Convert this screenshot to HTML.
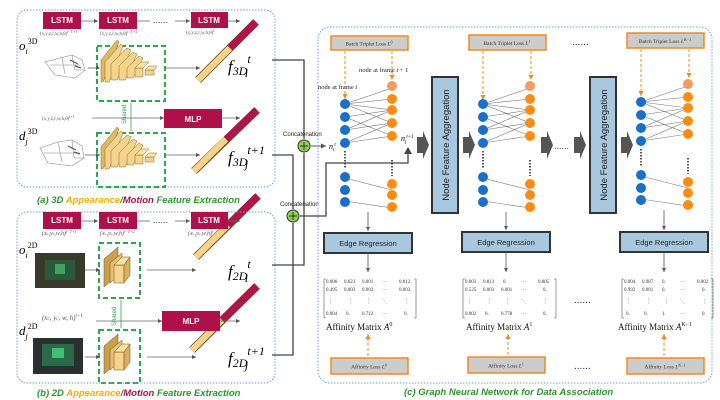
<!DOCTYPE html>
<html><head><meta charset="utf-8"><style>
html,body{margin:0;padding:0;background:#fff;}
svg{display:block;}
.s{font-family:"Liberation Sans",sans-serif;}
.m{font-family:"Liberation Serif",serif;}
</style></head><body>
<svg width="720" height="400" viewBox="0 0 720 400" xmlns="http://www.w3.org/2000/svg">
<defs>
<marker id="ag" markerWidth="6" markerHeight="6" refX="5" refY="3" orient="auto"><path d="M0,0.5 L5,3 L0,5.5z" fill="#555"/></marker>
<marker id="ao" markerWidth="6" markerHeight="6" refX="5" refY="3" orient="auto"><path d="M0,0.5 L5,3 L0,5.5z" fill="#f08a1c"/></marker>
<g id="pyr">
 <polygon points="0,30 0,8 16,-12 18,-10 2,30" fill="#e0b860" stroke="#8a6a2a" stroke-width="0.5"/>
 <polygon points="4,30 4,10 20,-8 22,-6 8,30" fill="#f5d38a" stroke="#8a6a2a" stroke-width="0.5"/>
 <polygon points="10,28 10,12 26,-4 30,-2 16,28" fill="#f5d38a" stroke="#8a6a2a" stroke-width="0.5"/>
 <polygon points="18,28 18,14 32,0 36,2 24,28" fill="#f5d38a" stroke="#8a6a2a" stroke-width="0.5"/>
 <polygon points="26,26 26,16 38,4 42,6 32,26" fill="#f5d38a" stroke="#8a6a2a" stroke-width="0.5"/>
 <rect x="34" y="16" width="8" height="9" fill="#f5d38a" stroke="#8a6a2a" stroke-width="0.5"/>
 <polygon points="34,16 40,10 48,10 42,16" fill="#fbe3a8" stroke="#8a6a2a" stroke-width="0.5"/>
 <rect x="44" y="18" width="9" height="5" fill="#f5d38a" stroke="#8a6a2a" stroke-width="0.5"/>
 <polygon points="44,18 48,14 56,14 53,18" fill="#fbe3a8" stroke="#8a6a2a" stroke-width="0.5"/>
</g>
<g id="pyr2">
 <polygon points="0,32 0,4 14,-8 14,20" fill="#c9a050" stroke="#6a4a1a" stroke-width="0.5"/>
 <polygon points="6,28 6,8 18,-2 18,18" fill="#e8c070" stroke="#6a4a1a" stroke-width="0.5"/>
 <rect x="10" y="10" width="10" height="18" fill="#f5d38a" stroke="#6a4a1a" stroke-width="0.5"/>
 <polygon points="10,10 18,2 26,2 20,10" fill="#fbe3a8" stroke="#6a4a1a" stroke-width="0.5"/>
 <polygon points="20,10 26,2 26,20 20,28" fill="#d9b060" stroke="#6a4a1a" stroke-width="0.5"/>
</g>
</defs>

<!-- panel a -->
<rect x="17" y="10" width="258" height="177" rx="10" fill="none" stroke="#6a9fd8" stroke-width="1" stroke-dasharray="1.5,1.5"/>
<g class="s" font-size="8" font-weight="bold" fill="#fff" text-anchor="middle">
<rect x="43" y="12" width="38" height="17" fill="#b0104a"/><text x="62" y="23">LSTM</text>
<rect x="99" y="12" width="38" height="17" fill="#b0104a"/><text x="118" y="23">LSTM</text>
<rect x="191" y="12" width="37" height="16" fill="#b0104a"/><text x="209" y="23">LSTM</text>
</g>
<g stroke="#666" stroke-width="0.8" marker-end="url(#ag)">
<line x1="81" y1="21" x2="98" y2="21"/><line x1="175" y1="21" x2="190" y2="21"/>
<line x1="228" y1="21" x2="240" y2="21"/>
</g>
<line x1="137" y1="21" x2="150" y2="21" stroke="#666" stroke-width="0.8"/>
<text x="153" y="23" class="s" font-size="9" fill="#333">......</text>
<g class="m" font-size="5" fill="#555"><text x="40" y="35">(x,y,z,l,w,h,θ)<tspan dy="-2" font-size="4">t−T+1</tspan></text><text x="100" y="35">(x,y,z,l,w,h,θ)<tspan dy="-2" font-size="4">t−T+2</tspan></text><text x="186" y="34">(x,y,z,l,w,h,θ)<tspan dy="-2" font-size="4">t</tspan></text></g>
<text x="19" y="50" class="m" font-size="13" font-style="italic">o<tspan font-size="8" dy="4">i</tspan><tspan font-size="8" dy="-10" font-style="normal">3D</tspan></text>
<text x="19" y="140" class="m" font-size="13" font-style="italic">d<tspan font-size="8" dy="4">j</tspan><tspan font-size="8" dy="-10" font-style="normal">3D</tspan></text>
<g stroke="#aaa" stroke-width="0.8" fill="none">
<path d="M45,62 L60,58 L72,55 L82,60 L85,70 L75,78 L55,75 Z M62,58 L65,74 M72,55 L75,70 L85,70 M50,65 L80,65"/>
<path d="M40,148 L58,142 L72,140 L82,146 L84,158 L72,166 L48,163 Z M58,142 L62,162 M72,140 L74,158 L84,158 M44,153 L80,153"/>
</g>
<g stroke="#555" stroke-width="1.2"><path d="M70,60 l8,4 M75,66 l6,2 M68,146 l8,4 M74,152 l6,2"/></g>
<g fill="none" stroke="#2aa84a" stroke-width="2" stroke-dasharray="5,3">
<rect x="97" y="46" width="68" height="55"/><rect x="97" y="133" width="68" height="54"/>
<rect x="99" y="243" width="41" height="55"/><rect x="99" y="330" width="41" height="53"/>
</g>
<use href="#pyr" x="101" y="52"/><use href="#pyr" x="101" y="139"/>
<use href="#pyr2" x="104" y="255"/><use href="#pyr2" x="104" y="342"/>
<line x1="131" y1="103" x2="131" y2="131" stroke="#2aa84a" stroke-width="0.8"/>
<text x="0" y="0" transform="translate(126,124) rotate(-90)" class="s" font-size="6" fill="#2aa84a">Shared</text>
<line x1="121" y1="300" x2="121" y2="328" stroke="#2aa84a" stroke-width="0.8"/>
<text x="0" y="0" transform="translate(116,326) rotate(-90)" class="s" font-size="6" fill="#2aa84a">Shared</text>
<g stroke="#666" stroke-width="0.8" marker-end="url(#ag)">
<line x1="88" y1="68" x2="100" y2="68"/><line x1="165" y1="68" x2="200" y2="68"/>
<line x1="85" y1="155" x2="100" y2="155"/><line x1="165" y1="155" x2="200" y2="155"/>
<line x1="92" y1="118" x2="164" y2="118"/><line x1="222" y1="118" x2="240" y2="118"/>
</g>
<text x="42" y="120" class="m" font-size="5" fill="#555">(x,y,z,l,w,h,θ)<tspan dy="-2" font-size="4">t+1</tspan></text>
<rect x="164" y="109" width="58" height="19" fill="#b0104a"/><text x="193" y="122" class="s" font-size="8" font-weight="bold" fill="#fff" text-anchor="middle">MLP</text>
<!-- bars -->
<g stroke-width="8" stroke-linecap="butt" stroke="#6a4a1a">
<line x1="198" y1="80" x2="256" y2="22"/><line x1="194" y1="171" x2="257" y2="110"/>
<line x1="196" y1="257" x2="258" y2="196"/><line x1="192" y1="350" x2="257" y2="286"/>
</g>
<g stroke-width="6.5" stroke-linecap="butt">
<line x1="198" y1="80" x2="230" y2="48" stroke="#f5d38a"/><line x1="230" y1="48" x2="256" y2="22" stroke="#b3124d"/>
<line x1="194" y1="171" x2="226" y2="139" stroke="#f5d38a"/><line x1="226" y1="139" x2="257" y2="110" stroke="#b3124d"/>
<line x1="196" y1="257" x2="228" y2="225" stroke="#f5d38a"/><line x1="228" y1="225" x2="258" y2="196" stroke="#b3124d"/>
<line x1="192" y1="350" x2="222" y2="320" stroke="#f5d38a"/><line x1="222" y1="320" x2="257" y2="286" stroke="#b3124d"/>
</g>
<g class="m" font-style="italic" font-size="17">
<text x="228" y="72">f<tspan font-size="12" dy="3">3D</tspan><tspan font-size="12" dy="-12">t</tspan><tspan font-size="12" dx="-6" dy="14">i</tspan></text>
<text x="228" y="163">f<tspan font-size="12" dy="3">3D</tspan><tspan font-size="12" dy="-12">t+1</tspan><tspan font-size="12" dx="-20" dy="14">j</tspan></text>
<text x="228" y="277">f<tspan font-size="12" dy="3">2D</tspan><tspan font-size="12" dy="-12">t</tspan><tspan font-size="12" dx="-6" dy="14">i</tspan></text>
<text x="228" y="364">f<tspan font-size="12" dy="3">2D</tspan><tspan font-size="12" dy="-12">t+1</tspan><tspan font-size="12" dx="-20" dy="14">j</tspan></text>
</g>
<text x="37" y="203" class="s" font-size="9.5" font-weight="bold" font-style="italic" fill="#2a9a2a">(a) 3D <tspan fill="#f0b000">Appearance</tspan>/<tspan fill="#b0104a">Motion</tspan> Feature Extraction</text>

<!-- panel b -->
<rect x="17" y="212" width="258" height="171" rx="10" fill="none" stroke="#6a9fd8" stroke-width="1" stroke-dasharray="1.5,1.5"/>
<g class="s" font-size="8" font-weight="bold" fill="#fff" text-anchor="middle">
<rect x="43" y="212" width="38" height="17" fill="#b0104a"/><text x="62" y="223">LSTM</text>
<rect x="99" y="212" width="38" height="17" fill="#b0104a"/><text x="118" y="223">LSTM</text>
<rect x="191" y="212" width="37" height="17" fill="#b0104a"/><text x="209" y="223">LSTM</text>
</g>
<g stroke="#666" stroke-width="0.8" marker-end="url(#ag)">
<line x1="81" y1="221" x2="98" y2="221"/><line x1="175" y1="221" x2="190" y2="221"/><line x1="228" y1="221" x2="240" y2="221"/>
<line x1="85" y1="270" x2="100" y2="270"/><line x1="147" y1="270" x2="196" y2="270"/>
<line x1="85" y1="357" x2="100" y2="357"/><line x1="147" y1="357" x2="196" y2="357"/>
<line x1="96" y1="321" x2="162" y2="321"/><line x1="220" y1="321" x2="240" y2="321"/>
</g>
<line x1="137" y1="221" x2="150" y2="221" stroke="#666" stroke-width="0.8"/>
<text x="153" y="223" class="s" font-size="9" fill="#333">......</text>
<g class="m" font-size="6" fill="#555" font-style="italic"><text x="42" y="235">(x<tspan font-size="4">c</tspan>,y<tspan font-size="4">c</tspan>,w,h)<tspan dy="-2" font-size="4">t−T+1</tspan></text><text x="100" y="235">(x<tspan font-size="4">c</tspan>,y<tspan font-size="4">c</tspan>,w,h)<tspan dy="-2" font-size="4">t−T+2</tspan></text><text x="188" y="235">(x<tspan font-size="4">c</tspan>,y<tspan font-size="4">c</tspan>,w,h)<tspan dy="-2" font-size="4">t</tspan></text>
<text x="42" y="320" font-size="7">(x<tspan font-size="5">c</tspan>, y<tspan font-size="5">c</tspan>, w, h)<tspan dy="-3" font-size="5">t+1</tspan></text></g>
<text x="19" y="254" class="m" font-size="13" font-style="italic">o<tspan font-size="8" dy="4">i</tspan><tspan font-size="8" dy="-10" font-style="normal">2D</tspan></text>
<text x="19" y="335" class="m" font-size="13" font-style="italic">d<tspan font-size="8" dy="4">j</tspan><tspan font-size="8" dy="-10" font-style="normal">2D</tspan></text>
<rect x="35" y="253" width="50" height="35" fill="#3a3a2a"/><rect x="45" y="260" width="30" height="20" fill="#2a5a3a"/><rect x="55" y="264" width="10" height="10" fill="#40a060"/>
<rect x="33" y="338" width="50" height="36" fill="#2a3030"/><rect x="42" y="344" width="32" height="22" fill="#2a6a4a"/><rect x="52" y="348" width="12" height="10" fill="#40c070"/>
<rect x="162" y="311" width="58" height="20" fill="#b0104a"/><text x="191" y="324" class="s" font-size="8" font-weight="bold" fill="#fff" text-anchor="middle">MLP</text>
<text x="37" y="396" class="s" font-size="9.5" font-weight="bold" font-style="italic" fill="#2a9a2a">(b) 2D <tspan fill="#f0b000">Appearance</tspan>/<tspan fill="#b0104a">Motion</tspan> Feature Extraction</text>

<!-- connectors -->
<g stroke="#444" stroke-width="1.3" fill="none">
<polyline points="272,60 304,60 304,139"/>
<polyline points="272,265 304,265 304,153"/>
<polyline points="272,155 293,155 293,209"/>
<polyline points="272,355 293,355 293,223"/>
<polyline points="300,216 326,216 326,163 408,163 408,152"/>
</g>
<line x1="311" y1="146" x2="326" y2="146" stroke="#555" stroke-width="1" marker-end="url(#ag)"/>
<path d="M404,154 L408,147 L412,154z" fill="#444"/>
<g stroke="#333" stroke-width="1"><circle cx="304" cy="146" r="6" fill="#8cd44a"/><path d="M300,146h8M304,142v8"/><circle cx="293" cy="216" r="6" fill="#8cd44a"/><path d="M289,216h8M293,212v8"/></g>
<text x="283" y="136" class="s" font-size="6" fill="#222">Concatenation</text>
<text x="280" y="206" class="s" font-size="6" fill="#222">Concatenation</text>
<text x="329" y="149" class="m" font-size="8" font-style="italic">n<tspan font-size="5" dy="2">i</tspan><tspan font-size="5" dy="-5">t</tspan></text>
<text x="401" y="141" class="m" font-size="8" font-style="italic">n<tspan font-size="5" dy="2">j</tspan><tspan font-size="5" dy="-5">t+1</tspan></text>

<!-- panel c -->
<rect x="318" y="27" width="394" height="356" rx="12" fill="none" stroke="#6a9fd8" stroke-width="1" stroke-dasharray="1.5,1.5"/>
<g class="m" font-size="5.5" fill="#333" text-anchor="middle">
<rect x="331" y="36" width="77" height="14" fill="#ccc" stroke="#f08a1c" stroke-width="1.5"/><text x="369" y="45.5">Batch Triplet Loss <tspan font-style="italic">L</tspan><tspan font-size="4" dy="-2">0</tspan></text>
<rect x="469" y="35" width="77" height="15" fill="#ccc" stroke="#f08a1c" stroke-width="1.5"/><text x="507" y="45">Batch Triplet Loss <tspan font-style="italic">L</tspan><tspan font-size="4" dy="-2">1</tspan></text>
<rect x="627" y="33" width="77" height="15" fill="#ccc" stroke="#f08a1c" stroke-width="1.5"/><text x="665" y="43">Batch Triplet Loss <tspan font-style="italic">L</tspan><tspan font-size="4" dy="-2">K−1</tspan></text>
<rect x="331" y="358" width="77" height="16" fill="#ccc" stroke="#f08a1c" stroke-width="1.5"/><text x="369" y="368.5">Affinity Loss <tspan font-style="italic">L</tspan><tspan font-size="4" dy="-2">0</tspan></text>
<rect x="468" y="357" width="77" height="16" fill="#ccc" stroke="#f08a1c" stroke-width="1.5"/><text x="506" y="367.5">Affinity Loss <tspan font-style="italic">L</tspan><tspan font-size="4" dy="-2">1</tspan></text>
<rect x="627" y="358" width="77" height="16" fill="#ccc" stroke="#f08a1c" stroke-width="1.5"/><text x="665" y="368.5">Affinity Loss <tspan font-style="italic">L</tspan><tspan font-size="4" dy="-2">K−1</tspan></text>
</g>
<g class="s" font-size="10" fill="#222"><text x="572" y="45">......</text><text x="574" y="303">......</text><text x="574" y="369">......</text></g>
<g stroke="#f08a1c" stroke-width="1" stroke-dasharray="3,2" marker-end="url(#ao)">
<line x1="345" y1="51" x2="345" y2="99"/><line x1="392" y1="51" x2="392" y2="80"/>
<line x1="483" y1="51" x2="483" y2="100"/><line x1="531" y1="51" x2="531" y2="80"/>
<line x1="641" y1="49" x2="641" y2="96"/><line x1="689" y1="49" x2="689" y2="78"/>
<line x1="368" y1="356" x2="368" y2="334"/><line x1="508" y1="355" x2="508" y2="334"/><line x1="664" y1="356" x2="664" y2="334"/>
</g>
<text x="359" y="72" class="m" font-size="6.5" fill="#222">node at frame <tspan font-style="italic">t</tspan> + 1</text>
<text x="318" y="89" class="m" font-size="6.5" fill="#222">node at frame <tspan font-style="italic">t</tspan></text>

<g id="graph">
<g stroke="#777" stroke-width="0.6">
<path d="M345,104 L392,88 M345,104 L392,110 M345,104 L392,123 M345,117 L392,110 M345,117 L392,136 M345,130 L392,110 M345,130 L392,123 M345,143 L392,123 M345,143 L392,136 M345,104 L392,99 M345,178 L392,190 M345,201 L392,208"/>
</g>
<g fill="#1a6fc8"><circle cx="345" cy="104" r="5"/><circle cx="345" cy="117" r="5"/><circle cx="345" cy="130" r="5"/><circle cx="345" cy="143" r="5"/><circle cx="345" cy="177" r="5"/><circle cx="345" cy="190" r="5"/><circle cx="345" cy="202" r="5"/></g>
<circle cx="392" cy="86" r="5" fill="#f59a62"/>
<g fill="#ff8c10"><circle cx="392" cy="99" r="5"/><circle cx="392" cy="110" r="5"/><circle cx="392" cy="123" r="5"/><circle cx="392" cy="136" r="5"/><circle cx="392" cy="184" r="5"/><circle cx="392" cy="195" r="5"/><circle cx="392" cy="207" r="5"/></g>
<g stroke="#222" stroke-width="1.5" stroke-dasharray="1.5,1.5"><line x1="345" y1="151" x2="345" y2="168"/><line x1="392" y1="160" x2="392" y2="176"/></g>
</g>
<use href="#graph" x="138" y="0"/>
<use href="#graph" x="296" y="-2"/>

<rect x="432" y="77" width="26" height="136" fill="#a8c8e0" stroke="#333" stroke-width="2"/>
<text transform="translate(449,145) rotate(-90)" class="s" font-size="9.5" fill="#222" text-anchor="middle">Node Feature Aggregation</text>
<rect x="590" y="77" width="26" height="136" fill="#a8c8e0" stroke="#333" stroke-width="2"/>
<text transform="translate(607,145) rotate(-90)" class="s" font-size="9.5" fill="#222" text-anchor="middle">Node Feature Aggregation</text>
<g fill="#555">
<path d="M417,137 h6 v-6 l6,14 l-6,14 v-6 h-6z"/>
<path d="M463,137 h6 v-6 l6,14 l-6,14 v-6 h-6z"/>
<path d="M541,137 h6 v-6 l6,14 l-6,14 v-6 h-6z"/>
<path d="M574,137 h6 v-6 l6,14 l-6,14 v-6 h-6z"/>
<path d="M621,137 h6 v-6 l6,14 l-6,14 v-6 h-6z"/>
</g>
<text x="554" y="149" class="s" font-size="9" fill="#333">......</text>

<g class="s" font-size="7.5" fill="#222" text-anchor="middle">
<rect x="324" y="233" width="88" height="20" fill="#a8c8e0" stroke="#333" stroke-width="2"/><text x="368" y="246">Edge Regression</text>
<rect x="462" y="232" width="88" height="20" fill="#a8c8e0" stroke="#333" stroke-width="2"/><text x="506" y="245">Edge Regression</text>
<rect x="620" y="232" width="88" height="20" fill="#a8c8e0" stroke="#333" stroke-width="2"/><text x="664" y="245">Edge Regression</text>
</g>
<g stroke="#555" stroke-width="0.8" marker-end="url(#ag)">
<line x1="368" y1="212" x2="368" y2="231"/><line x1="368" y1="253" x2="368" y2="272"/>
<line x1="506" y1="212" x2="506" y2="230"/><line x1="506" y1="252" x2="506" y2="272"/>
<line x1="664" y1="210" x2="664" y2="230"/><line x1="664" y1="252" x2="664" y2="272"/>
</g>
<!-- matrices -->
<g class="m" font-size="5" fill="#333">
<g transform="translate(326,0)">
<text x="0" y="283">0.006</text><text x="18" y="283">0.623</text><text x="36" y="283">0.001</text><text x="56" y="283">···</text><text x="73" y="283">0.012</text>
<text x="0" y="291">0.495</text><text x="18" y="291">0.003</text><text x="36" y="291">0.002</text><text x="56" y="291">···</text><text x="73" y="291">0.003</text>
<text x="2" y="303">⋮</text><text x="22" y="303">⋮</text><text x="40" y="303">⋮</text><text x="56" y="303">⋱</text><text x="78" y="303">⋮</text>
<text x="0" y="315">0.004</text><text x="20" y="315">0.</text><text x="36" y="315">0.712</text><text x="56" y="315">···</text><text x="78" y="315">0.</text>
</g>
<g transform="translate(465,0)">
<text x="0" y="283">0.003</text><text x="18" y="283">0.813</text><text x="38" y="283">0.</text><text x="56" y="283">···</text><text x="73" y="283">0.005</text>
<text x="0" y="291">0.535</text><text x="18" y="291">0.003</text><text x="36" y="291">0.001</text><text x="56" y="291">···</text><text x="78" y="291">0.</text>
<text x="2" y="303">⋮</text><text x="22" y="303">⋮</text><text x="40" y="303">⋮</text><text x="56" y="303">⋱</text><text x="78" y="303">⋮</text>
<text x="0" y="315">0.002</text><text x="20" y="315">0.</text><text x="36" y="315">0.778</text><text x="56" y="315">···</text><text x="78" y="315">0.</text>
</g>
<g transform="translate(624,0)">
<text x="0" y="283">0.004</text><text x="18" y="283">0.987</text><text x="38" y="283">0.</text><text x="56" y="283">···</text><text x="73" y="283">0.002</text>
<text x="0" y="291">0.992</text><text x="18" y="291">0.001</text><text x="38" y="291">0.</text><text x="56" y="291">···</text><text x="78" y="291">0.</text>
<text x="2" y="303">⋮</text><text x="22" y="303">⋮</text><text x="40" y="303">⋮</text><text x="56" y="303">⋱</text><text x="78" y="303">⋮</text>
<text x="2" y="315">0.</text><text x="20" y="315">0.</text><text x="38" y="315">1.</text><text x="56" y="315">···</text><text x="78" y="315">0.</text>
</g>
</g>
<g fill="none" stroke="#555" stroke-width="0.6">
<path d="M326,279h-2v39h2M414,279h2v39h-2"/><path d="M465,279h-2v39h2M554,279h2v39h-2"/><path d="M624,279h-2v39h2M711,279h2v39h-2"/>
</g>
<g class="m" font-size="9" fill="#111">
<text x="326" y="330">Affinity Matrix <tspan font-style="italic">A</tspan><tspan font-size="6" dy="-4">0</tspan></text>
<text x="466" y="330">Affinity Matrix <tspan font-style="italic">A</tspan><tspan font-size="6" dy="-4">1</tspan></text>
<text x="618" y="330">Affinity Matrix <tspan font-style="italic">A</tspan><tspan font-size="6" dy="-4">K−1</tspan></text>
</g>
<text x="404" y="395" class="s" font-size="9.5" font-weight="bold" font-style="italic" fill="#2a9a2a">(c) Graph Neural Network for Data Association</text>
</svg>
</body></html>
